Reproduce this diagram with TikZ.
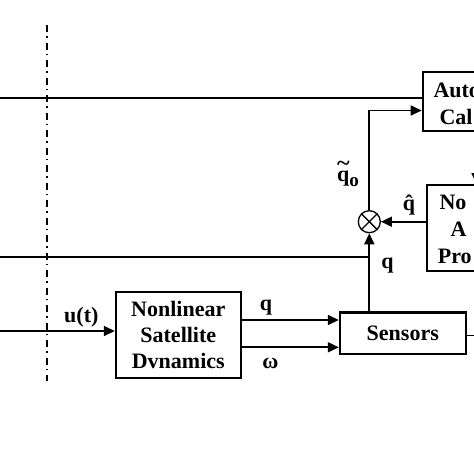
\documentclass[tikz,border=0pt]{standalone}
\usepackage{fontspec}
\usepackage{graphicx}
\setmainfont{Liberation Serif}
\usetikzlibrary{arrows.meta}
\begin{document}
\begin{tikzpicture}[x=1pt,y=-1pt,
  blk/.style={draw,line width=2.3pt,inner sep=0pt,font=\bfseries\fontsize{22}{26}\selectfont,align=center},
  txt/.style={font=\bfseries\fontsize{22}{26}\selectfont, inner sep=0pt},
  ln/.style={line width=1.7pt},
  arr/.style={ln,-{Triangle[length=11pt,width=10pt]}},
]
\useasboundingbox (0,0) rectangle (474,474);
\clip (0,0) rectangle (474,474);
% dash-dot separator
\draw[line width=1.7pt, dash pattern=on 7pt off 4pt on 1.5pt off 5pt] (46.7,25) -- (46.7,381);

% blocks
\node[blk, minimum width=124.7pt, minimum height=86pt] (nsd) at (178.3,335.3) {Nonlinear\\Satellite\\Dvnamics};
\node[blk, minimum width=125.7pt, minimum height=41.7pt] (sens) at (402.8,333.2) {Sensors};
\node[blk, anchor=north west, minimum width=120pt, minimum height=59.3pt] (auto) at (421.7,70.7) {};
\node[blk, anchor=north west, minimum width=120pt, minimum height=86pt] (nap) at (426,184) {};
\node[txt, anchor=base west] (autoA) at (433.3,97.5) {Auto};
\node[txt, anchor=base west] (autoC) at (439.3,124.5) {Cal};
\node[txt, anchor=base west] (napN) at (439.3,209) {No};
\node[txt, anchor=base west] (napA) at (450.3,236) {A};
\node[txt, anchor=base west] (napP) at (437.7,263) {Pro};

% summing junction
\node[draw, circle, line width=1.3pt, minimum size=22pt, inner sep=0pt] (circ) at (369.3,221.7) {};
\draw[line width=1.3pt] (circ.north west) -- (circ.south east) (circ.north east) -- (circ.south west);

% coordinates
\coordinate (inA) at (0,98);
\coordinate (aIn) at (421.7,110.5);
\coordinate (inQ) at (0,257);
\coordinate (inU) at (0,331);
\coordinate (yq) at (0,320);
\coordinate (yw) at (0,347.3);
\coordinate (outS) at (480,335.5);
\coordinate (xd) at (476.5,0);

% connectors
\draw[ln] (inA) -- (inA -| auto.west);
\draw[arr] (circ.north) |- (aIn);
\draw[arr] (nap.west |- circ) -- (circ.east);
\draw[arr] (circ |- sens.north) -- (circ.south);
\draw[ln] (inQ) -- (inQ -| circ);
\draw[arr] (inU) -- (inU -| nsd.west);
\draw[arr] (nsd.east |- yq) -- (sens.west |- yq);
\draw[arr] (nsd.east |- yw) -- (sens.west |- yw);
\draw[ln] (sens.east |- outS) -- (outS);
\draw[arr] (auto.south -| xd) -- (nap.north -| xd);

% labels
\node[txt, anchor=base] (lu) at (81.3,322) {u(t)};
\node[txt, anchor=base] (lq1) at (266,310) {q};
\node[txt, anchor=base] (lw) at (270.5,368) {ω};
\node[txt, anchor=base] (lqh) at (409,210) {\^{q}};
\node[txt, anchor=base] (lq2) at (387.5,268) {q};
\node[txt, anchor=base west] (lqt) at (337,181) {\makebox[0pt][l]{\raisebox{10.5pt}{\scalebox{1.1}[1]{\textasciitilde}}}q\raisebox{-5pt}{\fontsize{19}{19}\selectfont o}};
\end{tikzpicture}
\end{document}
